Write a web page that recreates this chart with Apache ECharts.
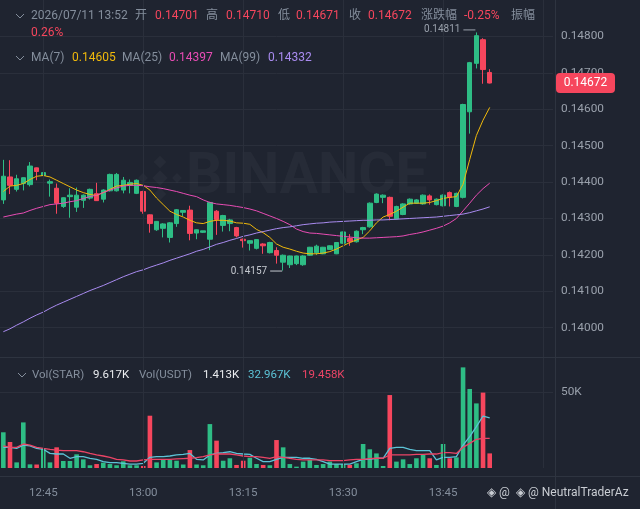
<!DOCTYPE html>
<html><head><meta charset="utf-8">
<script src="https://cdn.jsdelivr.net/npm/echarts@6/dist/echarts.min.js"></script>
<style>html,body{margin:0;padding:0;background:#1f2430;}#c{width:640px;height:509px;}</style>
</head><body><div id="c"></div>
<script>
const times = ['12:39','12:40','12:41','12:42','12:43','12:44','12:45','12:46','12:47','12:48','12:49','12:50','12:51','12:52','12:53','12:54','12:55','12:56','12:57','12:58','12:59',
'13:00','13:01','13:02','13:03','13:04','13:05','13:06','13:07','13:08','13:09','13:10','13:11','13:12','13:13','13:14','13:15','13:16','13:17','13:18','13:19',
'13:20','13:21','13:22','13:23','13:24','13:25','13:26','13:27','13:28','13:29','13:30','13:31','13:32','13:33','13:34','13:35','13:36','13:37','13:38','13:39',
'13:40','13:41','13:42','13:43','13:44','13:45','13:46','13:47','13:48','13:49','13:50','13:51','13:52','13:53','13:54','13:55','13:56','13:57','13:58','13:59','14:00','14:01'];
const timeLabels = ['12:45','13:00','13:15','13:30','13:45'];
const timeGrid = ['12:45','13:00','13:15','13:30','13:45','14:00'];

const open  = [0.14351,0.14414,0.14380,0.14396,0.14393,0.14439,0.14418,0.14397,0.14383,0.14333,0.14360,0.14331,0.14350,0.14356,0.14368,0.14353,0.14376,0.14376,0.14378,0.14391,
0.14369,0.14374,0.14310,0.14269,0.14273,0.14248,0.14286,0.14317,0.14323,0.14260,0.14262,0.14243,0.14320,0.14281,0.14286,0.14275,0.14243,0.14232,0.14218,0.14230,
0.14206,0.14212,0.14180,0.14173,0.14176,0.14173,0.14199,0.14206,0.14203,0.14215,0.14203,0.14232,0.14245,0.14236,0.14269,0.14277,0.14344,0.14358,0.14358,0.14299,
0.14311,0.14340,0.14342,0.14340,0.14362,0.14338,0.14335,0.14371,0.14333,0.14358,0.14593,0.14726,0.14791,0.14701];
const close = [0.14416,0.14391,0.14409,0.14412,0.14444,0.14429,0.14426,0.14401,0.14342,0.14357,0.14364,0.14364,0.14364,0.14380,0.14349,0.14378,0.14421,0.14421,0.14405,0.14399,
0.14405,0.14320,0.14286,0.14292,0.14285,0.14288,0.14324,0.14322,0.14259,0.14269,0.14266,0.14344,0.14297,0.14308,0.14296,0.14252,0.14239,0.14239,0.14242,0.14225,
0.14234,0.14199,0.14199,0.14197,0.14197,0.14197,0.14221,0.14224,0.14221,0.14225,0.14234,0.14263,0.14236,0.14265,0.14275,0.14342,0.14367,0.14364,0.14306,0.14333,
0.14340,0.14353,0.14351,0.14364,0.14351,0.14353,0.14364,0.14358,0.14369,0.14613,0.14728,0.14802,0.14709,0.14672];
const low   = [0.14340,0.14367,0.14374,0.14377,0.14388,0.14405,0.14391,0.14360,0.14313,0.14329,0.14302,0.14318,0.14329,0.14352,0.14348,0.14344,0.14374,0.14374,0.14369,0.14369,
0.14367,0.14313,0.14261,0.14266,0.14248,0.14234,0.14277,0.14307,0.14240,0.14243,0.14260,0.14213,0.14255,0.14264,0.14265,0.14248,0.14220,0.14212,0.14215,0.14203,
0.14204,0.14176,0.14157,0.14164,0.14172,0.14170,0.14197,0.14200,0.14202,0.14214,0.14202,0.14230,0.14225,0.14234,0.14257,0.14275,0.14342,0.14342,0.14295,0.14297,
0.14309,0.14338,0.14340,0.14338,0.14338,0.14336,0.14333,0.14333,0.14331,0.14355,0.14533,0.14712,0.14670,0.14671];
const high  = [0.14461,0.14460,0.14420,0.14413,0.14455,0.14440,0.14431,0.14407,0.14396,0.14358,0.14383,0.14385,0.14366,0.14382,0.14398,0.14380,0.14423,0.14425,0.14414,0.14407,
0.14407,0.14376,0.14311,0.14293,0.14287,0.14290,0.14326,0.14323,0.14335,0.14270,0.14266,0.14346,0.14323,0.14310,0.14299,0.14277,0.14245,0.14240,0.14243,0.14232,
0.14236,0.14221,0.14201,0.14198,0.14198,0.14199,0.14222,0.14228,0.14222,0.14226,0.14235,0.14264,0.14257,0.14267,0.14277,0.14344,0.14369,0.14366,0.14360,0.14335,
0.14342,0.14355,0.14353,0.14366,0.14366,0.14355,0.14366,0.14374,0.14371,0.14615,0.14730,0.14811,0.14795,0.14710];

const ma7  = [0.14374,0.14389,0.14391,0.14396,0.14407,0.14416,0.14418,0.14414,0.14405,0.14396,0.14387,0.14378,0.14371,0.14366,0.14363,0.14371,0.14380,0.14389,0.14391,0.14394,
0.14396,0.14391,0.14378,0.14356,0.14338,0.14320,0.14311,0.14304,0.14295,0.14288,0.14286,0.14292,0.14295,0.14295,0.14293,0.14288,0.14287,0.14284,0.14270,0.14261,
0.14248,0.14230,0.14221,0.14216,0.14210,0.14205,0.14203,0.14203,0.14205,0.14209,0.14216,0.14225,0.14234,0.14241,0.14248,0.14266,0.14288,0.14304,0.14311,0.14320,
0.14331,0.14342,0.14342,0.14342,0.14344,0.14349,0.14355,0.14358,0.14360,0.14394,0.14462,0.14528,0.14570,0.14605];
const ma25 = [0.14304,0.14308,0.14312,0.14315,0.14322,0.14328,0.14333,0.14338,0.14340,0.14342,0.14346,0.14349,0.14355,0.14360,0.14364,0.14371,0.14378,0.14384,0.14389,0.14391,
0.14391,0.14390,0.14387,0.14385,0.14382,0.14378,0.14374,0.14369,0.14364,0.14360,0.14351,0.14344,0.14340,0.14338,0.14336,0.14333,0.14330,0.14326,0.14321,0.14314,
0.14307,0.14300,0.14292,0.14283,0.14271,0.14264,0.14260,0.14259,0.14257,0.14255,0.14253,0.14251,0.14249,0.14247,0.14246,0.14246,0.14247,0.14248,0.14249,0.14250,
0.14252,0.14256,0.14259,0.14263,0.14268,0.14273,0.14279,0.14288,0.14300,0.14321,0.14342,0.14364,0.14382,0.14397];
const ma99 = [0.13989,0.13997,0.14007,0.14016,0.14026,0.14035,0.14043,0.14053,0.14062,0.14070,0.14078,0.14086,0.14094,0.14102,0.14109,0.14116,0.14124,0.14132,0.14140,0.14147,
0.14154,0.14159,0.14166,0.14172,0.14178,0.14185,0.14191,0.14197,0.14203,0.14210,0.14215,0.14222,0.14229,0.14234,0.14240,0.14245,0.14251,0.14255,0.14260,0.14264,
0.14268,0.14272,0.14275,0.14277,0.14280,0.14283,0.14285,0.14287,0.14288,0.14290,0.14291,0.14292,0.14293,0.14294,0.14295,0.14295,0.14296,0.14296,0.14297,0.14298,
0.14299,0.14300,0.14301,0.14302,0.14303,0.14304,0.14306,0.14308,0.14310,0.14312,0.14316,0.14321,0.14326,0.14332];

// volume in thousands of STAR
const volume = [23.5,17.1,3.7,30.0,2.4,2.3,13.0,3.7,13.6,4.6,4.6,9.0,5.7,1.8,2.6,3.5,2.6,1.8,4.4,1.8,
1.8,1.3,34.4,3.7,5.3,5.3,4.8,2.3,11.8,2.3,1.8,28.9,18.0,4.8,6.4,2.0,4.8,6.7,2.6,2.0,
1.8,18.4,13.6,2.6,0.9,4.2,5.3,2.0,2.6,4.2,2.6,2.6,2.0,3.1,15.8,12.3,9.6,1.3,48.0,4.2,
5.7,2.6,6.4,8.6,6.4,2.0,15.8,6.4,7.0,66.2,52.0,42.5,49.6,9.617];
const volMa5 = [13.6,13.6,12.9,15.1,14.5,12.9,12.3,9.6,9.2,9.2,6.4,7.5,7.5,6.4,5.7,4.2,3.5,3.5,3.1,2.6,
2.6,3.1,7.0,7.5,7.5,7.9,8.6,9.0,9.6,5.7,5.3,8.6,9.6,10.1,10.7,9.6,9.2,9.0,6.4,4.2,
4.2,5.7,7.0,7.0,7.0,6.4,6.4,5.7,4.2,2.6,2.6,2.6,2.6,4.2,5.7,5.7,6.4,6.4,12.9,13.6,
13.6,12.3,11.4,11.4,11.4,5.3,7.0,7.0,7.5,15.1,20.6,27.2,34.2,32.967];
const volMa10 = [14.5,13.6,13.6,15.8,15.1,13.6,12.9,12.3,11.8,11.4,11.4,11.4,10.7,9.6,8.6,7.9,7.0,5.7,5.3,4.6,
4.6,5.3,5.7,5.7,5.7,5.7,6.0,6.2,6.4,6.8,7.5,8.6,9.2,9.2,9.2,8.6,7.9,7.5,7.5,7.0,
6.4,7.5,7.0,6.4,5.7,5.3,5.3,5.3,5.3,4.8,4.8,4.8,5.3,5.7,5.7,6.2,6.4,6.4,8.6,8.6,
8.6,8.6,9.0,9.0,9.2,9.2,10.1,10.1,9.6,13.6,16.2,18.9,19.5,19.458];
const volUsdtLast = '1.413K';
const headerDate = '2026/07/11 13:52';
const headerChange = '-0.25%';
const headerAmp = '0.26%';

const UP = '#2ebd85', DOWN = '#f6465d';
const GRAY = '#848e9c', GRID = '#2a2f3b', SEP = '#2e3440';
const FONT = "Roboto, 'Noto Sans CJK SC', sans-serif";
const FS = 12;
const C_MA7 = '#f0b90b', C_MA25 = '#e84cb4', C_MA99 = '#a98bf0';
const C_V5 = '#5cc3d6', C_V10 = '#ec4466';

const chart = echarts.init(document.getElementById('c'), null, {renderer: 'canvas'});
const candleData = open.map((o, i) => [o, close[i], low[i], high[i]]);
const volData = volume.map((v, i) => ({value: v, itemStyle: {color: close[i] >= open[i] ? UP : DOWN}}));
const gridMarks = timeGrid.map(t => ({xAxis: t}));
const markCfg = {silent: true, symbol: 'none', label: {show: false}, lineStyle: {color: GRID, type: 'solid', width: 1}, data: gridMarks, animation: false};

chart.setOption({
  backgroundColor: '#1f2430',
  animation: false,
  grid: [
    {left: 0, right: 87, top: -7.125, height: 371.25},
    {left: 0, right: 87, top: 361.6, height: 106.4}
  ],
  xAxis: [
    {type: 'category', gridIndex: 0, data: times, boundaryGap: true, axisLine: {show: false}, axisTick: {show: false}, axisLabel: {show: false}, splitLine: {show: false}},
    {type: 'category', gridIndex: 1, data: times, boundaryGap: true, axisLine: {show: false}, axisTick: {show: false}, splitLine: {show: false},
      axisLabel: {color: GRAY, fontSize: 11.5, fontFamily: FONT, margin: 19, interval: (idx, v) => timeLabels.includes(v)}}
  ],
  yAxis: [
    {type: 'value', gridIndex: 0, position: 'right', min: 0.139, max: 0.149, interval: 0.001,
      axisLine: {show: false}, axisTick: {show: false},
      axisLabel: {color: '#9aa1ac', fontSize: 11.8, fontFamily: FONT, margin: 8,
        formatter: v => { const k = Math.round(v * 1000); return (k <= 139 || k >= 149) ? '' : v.toFixed(5); }},
      splitLine: {show: true, showMinLine: false, showMaxLine: false, lineStyle: {color: GRID, width: 1}}},
    {type: 'value', gridIndex: 1, position: 'right', min: 0, max: 70, interval: 50,
      axisLine: {show: false}, axisTick: {show: false},
      axisLabel: {color: '#9aa1ac', fontSize: 11.8, fontFamily: FONT, margin: 8, formatter: v => v === 50 ? '50K' : ''},
      splitLine: {show: true, showMinLine: false, showMaxLine: false, lineStyle: {color: GRID, width: 1}}}
  ],
  series: [
    {type: 'line', xAxisIndex: 0, yAxisIndex: 0, data: [], z: 0, silent: true, markLine: markCfg},
    {type: 'line', xAxisIndex: 1, yAxisIndex: 1, data: [], z: 0, silent: true, markLine: markCfg},
    {type: 'candlestick', xAxisIndex: 0, yAxisIndex: 0, data: candleData, barWidth: 5, z: 3,
      itemStyle: {color: UP, color0: DOWN, borderColor: UP, borderColor0: DOWN, borderWidth: 1}},
    {type: 'line', name: 'MA7', xAxisIndex: 0, yAxisIndex: 0, data: ma7, symbol: 'none', z: 4, lineStyle: {color: C_MA7, width: 1}},
    {type: 'line', name: 'MA25', xAxisIndex: 0, yAxisIndex: 0, data: ma25, symbol: 'none', z: 4, lineStyle: {color: C_MA25, width: 1}},
    {type: 'line', name: 'MA99', xAxisIndex: 0, yAxisIndex: 0, data: ma99, symbol: 'none', z: 4, lineStyle: {color: C_MA99, width: 1}},
    {type: 'bar', xAxisIndex: 1, yAxisIndex: 1, data: volData, barWidth: 4.6, z: 3},
    {type: 'line', xAxisIndex: 1, yAxisIndex: 1, data: volMa5, symbol: 'none', z: 4, lineStyle: {color: C_V5, width: 1.3}},
    {type: 'line', xAxisIndex: 1, yAxisIndex: 1, data: volMa10, symbol: 'none', z: 4, lineStyle: {color: C_V10, width: 1.3}}
  ]
});

// derived annotations
const last = close.length - 1;
let minI = 0, maxI = 0;
low.forEach((v, i) => { if (v < low[minI]) minI = i; });
high.forEach((v, i) => { if (v > high[maxI]) maxI = i; });
const pMin = chart.convertToPixel({xAxisIndex: 0, yAxisIndex: 0}, [minI, low[minI]]);
const pMax = chart.convertToPixel({xAxisIndex: 0, yAxisIndex: 0}, [maxI, high[maxI]]);
const yLast = chart.convertToPixel({yAxisIndex: 0}, close[last]);

function txt(x, y, s, color, size, align) {
  return {type: 'text', x: x, y: y, z: 100, silent: true,
    style: {text: s, fill: color, font: (size || FS) + 'px ' + FONT, textVerticalAlign: 'middle', textAlign: align || 'left'}};
}
function chevron(x, y) {
  return {type: 'polyline', z: 100, silent: true, shape: {points: [[x, y - 2], [x + 4, y + 2], [x + 8, y - 2]]}, style: {stroke: GRAY, lineWidth: 1, fill: null}};
}
const RED = '#f6465d';
const g = [];
// watermark
const wm = 'rgba(255,255,255,0.035)';
[[0,0,11],[-17,0,7],[17,0,7],[0,-16,9],[0,16,9]].forEach(d => {
  g.push({type: 'rect', x: 160 + d[0], y: 178 + d[1], rotation: Math.PI / 4, z: 1, silent: true,
    shape: {x: -d[2] / 2, y: -d[2] / 2, width: d[2], height: d[2]}, style: {fill: wm}});
});
g.push({type: 'text', x: 186, y: 179, z: 1, silent: true, style: {text: 'BINANCE', fill: wm, font: 'bold 57px ' + FONT, textVerticalAlign: 'middle'}});
// separators
g.push({type: 'line', z: 50, silent: true, shape: {x1: 0, y1: 357.5, x2: 640, y2: 357.5}, style: {stroke: SEP, lineWidth: 1}});
g.push({type: 'line', z: 50, silent: true, shape: {x1: 0, y1: 476.5, x2: 640, y2: 476.5}, style: {stroke: SEP, lineWidth: 1}});
g.push({type: 'line', z: 50, silent: true, shape: {x1: 555.5, y1: 0, x2: 555.5, y2: 509}, style: {stroke: SEP, lineWidth: 1}});
// header line 1
const HY = 16;
g.push(chevron(16, HY));
g.push(txt(31, HY, headerDate, GRAY));
g.push(txt(135, HY, '开', GRAY)); g.push(txt(155, HY, open[last].toFixed(5), RED));
g.push(txt(206, HY, '高', GRAY)); g.push(txt(226, HY, high[last].toFixed(5), RED));
g.push(txt(278, HY, '低', GRAY)); g.push(txt(296, HY, low[last].toFixed(5), RED));
g.push(txt(349, HY, '收', GRAY)); g.push(txt(368, HY, close[last].toFixed(5), RED));
g.push(txt(421, HY, '涨跌幅', GRAY)); g.push(txt(464, HY, headerChange, RED));
g.push(txt(511, HY, '振幅', GRAY));
g.push(txt(31, 33, headerAmp, RED));
// MA legend
g.push(chevron(16, 58));
g.push(txt(31, 58, 'MA(7)', GRAY)); g.push(txt(72, 58, ma7[last].toFixed(5), C_MA7));
g.push(txt(122, 58, 'MA(25)', GRAY)); g.push(txt(169, 58, ma25[last].toFixed(5), C_MA25));
g.push(txt(220, 58, 'MA(99)', GRAY)); g.push(txt(268, 58, ma99[last].toFixed(5), C_MA99));
// volume legend
const VY = 375, VF = 11.5;
g.push(chevron(18, VY));
g.push(txt(32, VY, 'Vol(STAR)', GRAY, VF)); g.push(txt(93, VY, volume[last].toFixed(3) + 'K', '#eaecef', VF));
g.push(txt(139, VY, 'Vol(USDT)', GRAY, VF)); g.push(txt(203, VY, volUsdtLast, '#eaecef', VF));
g.push(txt(248, VY, volMa5[last].toFixed(3) + 'K', C_V5, VF));
g.push(txt(302, VY, volMa10[last].toFixed(3) + 'K', C_V10, VF));
// min / max markers
g.push(txt(pMin[0] - 16, pMin[1] + 1, low[minI].toFixed(5), '#c4c8cf', 10));
g.lastIndexOf; g[g.length - 1].style.textAlign = 'right';
g.push({type: 'line', z: 100, silent: true, shape: {x1: pMin[0] - 13, y1: pMin[1] + 0.5, x2: pMin[0] - 1, y2: pMin[1] + 0.5}, style: {stroke: '#c4c8cf', lineWidth: 1}});
g.push(txt(pMax[0] - 16, pMax[1] - 3, high[maxI].toFixed(5), '#9aa1ac', 10));
g[g.length - 1].style.textAlign = 'right';
g.push({type: 'line', z: 100, silent: true, shape: {x1: pMax[0] - 13, y1: pMax[1] - 2.5, x2: pMax[0] - 1, y2: pMax[1] - 2.5}, style: {stroke: '#9aa1ac', lineWidth: 1}});
// current price tag
g.push({type: 'rect', z: 100, silent: true, shape: {x: 556, y: yLast - 10, width: 59, height: 20, r: 4}, style: {fill: RED}});
g.push({type: 'text', z: 101, silent: true, x: 585.5, y: yLast, style: {text: close[last].toFixed(5), fill: '#ffffff', font: '12px ' + FONT, textAlign: 'center', textVerticalAlign: 'middle'}});
// bottom-right watermark
g.push(txt(487, 493, '◈ @', '#c9cdd3', 12));
g.push(txt(516, 493, '◈ @ NeutralTraderAz', '#c9cdd3', 12));
chart.setOption({graphic: g});
</script></body></html>
